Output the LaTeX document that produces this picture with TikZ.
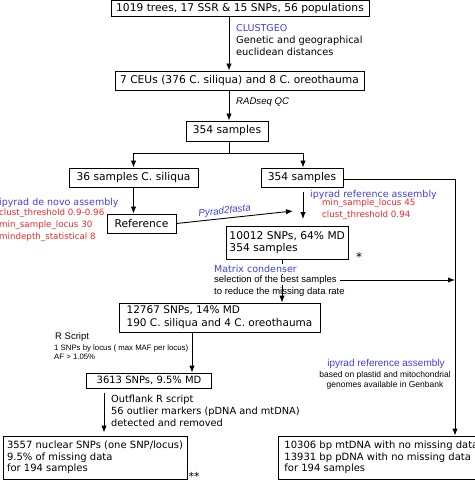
\documentclass[tikz,border=0pt]{standalone}
\usepackage{fontspec}
\setmainfont{DejaVu Sans}
\newfontfamily\arialfont{Liberation Sans}
\usetikzlibrary{arrows.meta}
\definecolor{ipblue}{RGB}{64,64,224}
\definecolor{ipred}{RGB}{240,40,40}
\tikzstyle{box}=[draw, line width=0.9pt, inner sep=0pt, align=left, font=\fontsize{10.7}{12.6}\selectfont]
\tikzstyle{lowbox}=[box, font=\fontsize{10}{11.7}\selectfont]
\tikzstyle{flow}=[-{Latex[length=7pt,width=5.5pt]}, line width=0.9pt]
\tikzstyle{tool}=[text=ipblue, inner sep=0pt, font=\fontsize{9.5}{11}\selectfont]
\tikzstyle{param}=[text=ipred, inner sep=0pt, align=left, font=\fontsize{8.7}{11.8}\selectfont]
\tikzstyle{desc}=[inner sep=0pt, align=left, font=\fontsize{9.8}{12}\selectfont]
\tikzstyle{note}=[inner sep=0pt, font=\arialfont\fontsize{9.5}{11}\selectfont]
\tikzstyle{tiny}=[inner sep=0pt, align=center, font=\arialfont\fontsize{7.8}{9.5}\selectfont]

\begin{document}
\begin{tikzpicture}[x=1pt, y=-1pt]
    \useasboundingbox (0,0) rectangle (474,486);
    % boxes
    \node[box, minimum width=258pt, minimum height=15.5pt] (trees) at (240,8.25) {1019 trees, 17 SSR \& 15 SNPs, 56 populations};
    \node[box, minimum width=249pt, minimum height=19pt] (ceu) at (239.5,80.5) {7 CEUs (376 C. siliqua) and 8 C. oreothauma};
    \node[box, minimum width=82pt, minimum height=20pt] (samples) at (227,131) {354 samples};
    \node[box, minimum width=129pt, minimum height=19pt] (siliqua) at (133.5,177.5) {36 samples C. siliqua};
    \node[box, minimum width=82pt, minimum height=19pt] (samplesb) at (302,177.5) {354 samples};
    \node[box, minimum width=69pt, minimum height=19pt] (reference) at (141.5,223.5) {Reference};
    \node[box, anchor=west, inner xsep=3pt, minimum height=33pt] (snpa) at (226,242.5) {10012 SNPs, 64\% MD\\354 samples};
    \node[box, minimum width=201pt, minimum height=29pt, font=\fontsize{10.5}{12.8}\selectfont] (snpb) at (219.5,317.5) {12767 SNPs, 14\% MD\\190 C. siliqua and 4 C. oreothauma};
    \node[lowbox, anchor=east, inner xsep=4pt, minimum height=15pt, minimum width=125pt, align=right] (snpc) at (212,380.5) {\hfill 3613 SNPs, 9.5\% MD};
    \node[lowbox, minimum width=184pt, minimum height=43pt] (nuclear) at (95,457.5) {3557 nuclear SNPs (one SNP/locus)\\9.5\% of missing data\\for 194 samples};
    \node[lowbox, anchor=west, inner xsep=6pt, minimum height=43pt] (organelle) at (278,457.5) {10306 bp mtDNA with no missing data\\13931 bp pDNA with no missing data\\for 194 samples};

    % connectors
    \coordinate (spine) at (229,0);
    \coordinate (rail) at (455,0);
    \coordinate (mx) at (282,0);
    \coordinate (rx) at (192,0);
    \coordinate (ox) at (104,0);
    \coordinate (refin) at (293,211);
    \coordinate (drop) at (303,219);
    \draw[flow] (trees.south -| spine) -- (ceu.north -| spine);
    \draw[flow] (ceu.south -| spine) -- (samples.north -| spine);
    \draw[line width=0.9pt] (samples.south -| spine) -- ++(0,12) coordinate (split);
    \draw[flow] (split) -| (siliqua.north);
    \draw[flow] (split) -| ([xshift=1pt]samplesb.north);
    \draw[flow] (siliqua.south) -- (reference.north -| siliqua.south);
    \draw[flow] (reference.east) -- node[pos=0.42, above=2pt, sloped, note, text=ipblue, font=\arialfont\itshape\fontsize{9.8}{11}\selectfont] {Pyrad2fasta} (refin);
    \draw[flow] ([yshift=-5pt]samplesb.south -| drop) -- (drop);
    \draw[flow] ([yshift=-1.5pt]samplesb.east) -| (organelle.north -| rail);
    \draw[flow] (snpa.south -| mx) -- (snpb.north -| mx);
    \draw[flow] (snpb.south -| rx) -- (snpc.north -| rx);
    \draw[flow] ([yshift=-5pt]snpc.south -| ox) -- ([yshift=3pt]nuclear.north -| ox);

    % labels
    \node[tool, anchor=west] (clustgeo) at (236,28) {CLUSTGEO};
    \node[desc, anchor=west] (distances) at (236,46) {Genetic and geographical\\euclidean distances};
    \node[note, anchor=west, font=\arialfont\itshape\fontsize{9.6}{11}\selectfont] (qc) at (236,102) {RADseq QC};
    \node[tool, anchor=west] (denovo) at (-1,202.5) {ipyrad de novo assembly};
    \node[param, anchor=west] (denovopar) at (-1,225.5) {clust\_threshold 0.9-0.96\\min\_sample\_locus 30\\mindepth\_statistical 8};
    \node[tool, anchor=west] (refasm) at (310,195) {ipyrad reference assembly};
    \node[param, anchor=west] (refpara) at (322,203.5) {min\_sample\_locus 45};
    \node[param, anchor=west] (refparb) at (322,215.7) {clust\_threshold 0.94};
    \node[font=\fontsize{12}{12}\selectfont] (stara) at (359,257) {*};
    \node[tool, anchor=west, fill=white, inner ysep=1pt] (condenser) at (214,269) {Matrix condenser};
    \node[note, anchor=west, fill=white, inner ysep=1pt] (selection) at (214,280) {selection of the best samples};
    \node[note, anchor=west] (reduce) at (214,292) {to reduce the missing data rate};
    \draw[flow] ([xshift=3pt]selection.east) -- (selection.east -| rail);
    \node[note, anchor=west] (rscript) at (55,337) {R Script};
    \node[tiny, anchor=west] (bylocus) at (54,348) {1 SNPs by locus ( max MAF per locus)};
    \node[tiny, anchor=west] (af) at (54,357) {AF > 1.05\%};
    \node[desc, anchor=west] (outflank) at (111,411) {Outflank R script\\56 outlier markers (pDNA and mtDNA)\\detected and removed};
    \node[tool, font=\arialfont\fontsize{10}{11}\selectfont] (plastid) at (386,364) {ipyrad reference assembly};
    \node[tiny, font=\arialfont\fontsize{8.5}{10}\selectfont] (genbank) at (385,380) {based on plastid and mitochondrial\\genomes available in Genbank};
    \node[font=\fontsize{11}{11}\selectfont] (starb) at (194,476) {**};
\end{tikzpicture}
\end{document}
